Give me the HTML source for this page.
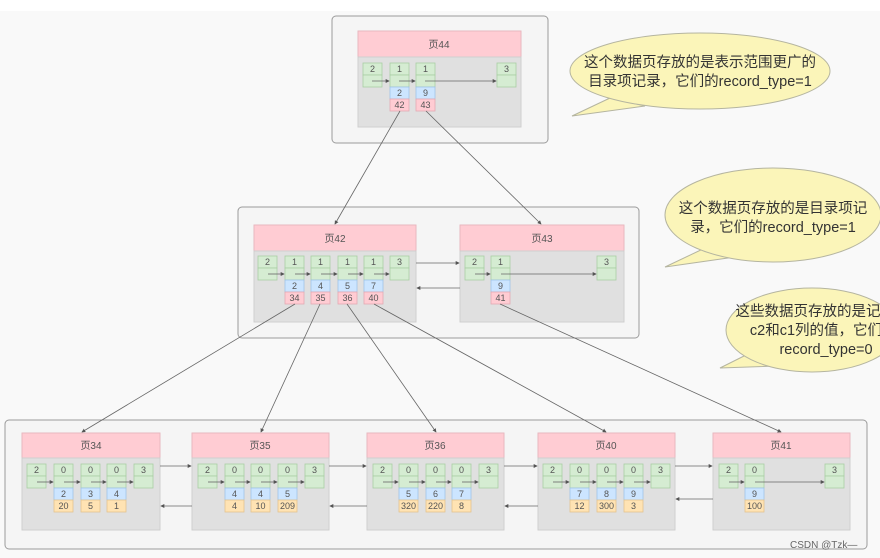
<!DOCTYPE html>
<html><head><meta charset="utf-8"><style>
html,body{margin:0;padding:0;background:#fff;}
svg{display:block;font-family:"Liberation Sans","Noto Sans CJK SC",sans-serif;}
.c{fill:#f5f5f5;stroke:#9a9a9a;stroke-width:1}
.h{fill:#ffccd3;stroke:#e8b8bf}
.bd{fill:#e0e0e0;stroke:#cfcfcf}
.g{fill:#d5ecd2;stroke:#a9cfa4;stroke-width:.8}
.b{fill:#cce5ff;stroke:#9fc3e8;stroke-width:.8}
.p{fill:#ffccd3;stroke:#e3a9b2;stroke-width:.8}
.o{fill:#ffe3b3;stroke:#e3c48f;stroke-width:.8}
.t{font-size:9px;fill:#555;text-anchor:middle}
.ht{font-size:10px;fill:#555;text-anchor:middle}
.l{stroke:#666;stroke-width:.8;fill:none;marker-end:url(#a)}
.bub{fill:#fbf5b9;stroke:#b5b5a0;stroke-width:1}
.bub2{fill:#fbf5b9;stroke:none}
.bt{font-size:14.5px;fill:#333;text-anchor:middle}
</style></head><body>
<svg width="880" height="558" viewBox="0 0 880 558">
<defs><marker id="a" viewBox="0 0 6 6" refX="5" refY="3" markerWidth="5" markerHeight="5" orient="auto"><path d="M0,0L6,3L0,6z" fill="#555"/></marker></defs>
<rect x="0" y="11" width="880" height="547" fill="#f9f9f9"/>

<rect class="c" x="332" y="16" width="216" height="127" rx="4"/>
<rect class="c" x="238" y="207" width="401" height="131" rx="4"/>
<rect class="c" x="5" y="420" width="862" height="129" rx="4"/>

<!-- page 44 -->
<rect class="h" x="358" y="31" width="163" height="26"/><text class="ht" x="439" y="48">页44</text>
<rect class="bd" x="358" y="57" width="163" height="70"/>
<rect class="g" x="363" y="63" width="19" height="12"/><rect class="g" x="363" y="75" width="19" height="12"/><text class="t" x="372.5" y="72">2</text>
<rect class="g" x="390" y="63" width="19" height="12"/><rect class="g" x="390" y="75" width="19" height="12"/><text class="t" x="399.5" y="72">1</text>
<rect class="b" x="390" y="87" width="19" height="12"/><text class="t" x="399.5" y="96">2</text>
<rect class="p" x="390" y="99" width="19" height="12"/><text class="t" x="399.5" y="108">42</text>
<rect class="g" x="416" y="63" width="19" height="12"/><rect class="g" x="416" y="75" width="19" height="12"/><text class="t" x="425.5" y="72">1</text>
<rect class="b" x="416" y="87" width="19" height="12"/><text class="t" x="425.5" y="96">9</text>
<rect class="p" x="416" y="99" width="19" height="12"/><text class="t" x="425.5" y="108">43</text>
<rect class="g" x="497" y="63" width="19" height="12"/><rect class="g" x="497" y="75" width="19" height="12"/><text class="t" x="506.5" y="72">3</text>
<line class="l" x1="372" y1="81" x2="389" y2="81"/><line class="l" x1="399" y1="81" x2="415" y2="81"/><line class="l" x1="425" y1="81" x2="496" y2="81"/>

<!-- page 42 -->
<rect class="h" x="254" y="225" width="162" height="26"/><text class="ht" x="335" y="242">页42</text>
<rect class="bd" x="254" y="251" width="162" height="71"/>
<rect class="g" x="258" y="256" width="19" height="12"/><rect class="g" x="258" y="268" width="19" height="12"/><text class="t" x="267.5" y="265">2</text>
<rect class="g" x="285" y="256" width="19" height="12"/><rect class="g" x="285" y="268" width="19" height="12"/><text class="t" x="294.5" y="265">1</text>
<rect class="b" x="285" y="280" width="19" height="12"/><text class="t" x="294.5" y="289">2</text>
<rect class="p" x="285" y="292" width="19" height="12"/><text class="t" x="294.5" y="301">34</text>
<rect class="g" x="311" y="256" width="19" height="12"/><rect class="g" x="311" y="268" width="19" height="12"/><text class="t" x="320.5" y="265">1</text>
<rect class="b" x="311" y="280" width="19" height="12"/><text class="t" x="320.5" y="289">4</text>
<rect class="p" x="311" y="292" width="19" height="12"/><text class="t" x="320.5" y="301">35</text>
<rect class="g" x="338" y="256" width="19" height="12"/><rect class="g" x="338" y="268" width="19" height="12"/><text class="t" x="347.5" y="265">1</text>
<rect class="b" x="338" y="280" width="19" height="12"/><text class="t" x="347.5" y="289">5</text>
<rect class="p" x="338" y="292" width="19" height="12"/><text class="t" x="347.5" y="301">36</text>
<rect class="g" x="364" y="256" width="19" height="12"/><rect class="g" x="364" y="268" width="19" height="12"/><text class="t" x="373.5" y="265">1</text>
<rect class="b" x="364" y="280" width="19" height="12"/><text class="t" x="373.5" y="289">7</text>
<rect class="p" x="364" y="292" width="19" height="12"/><text class="t" x="373.5" y="301">40</text>
<rect class="g" x="390" y="256" width="19" height="12"/><rect class="g" x="390" y="268" width="19" height="12"/><text class="t" x="399.5" y="265">3</text>
<line class="l" x1="268" y1="274" x2="284" y2="274"/><line class="l" x1="295" y1="274" x2="310" y2="274"/><line class="l" x1="321" y1="274" x2="337" y2="274"/><line class="l" x1="348" y1="274" x2="363" y2="274"/><line class="l" x1="374" y1="274" x2="389" y2="274"/>

<!-- page 43 -->
<rect class="h" x="460" y="225" width="164" height="26"/><text class="ht" x="542" y="242">页43</text>
<rect class="bd" x="460" y="251" width="164" height="71"/>
<rect class="g" x="465" y="256" width="19" height="12"/><rect class="g" x="465" y="268" width="19" height="12"/><text class="t" x="474.5" y="265">2</text>
<rect class="g" x="491" y="256" width="19" height="12"/><rect class="g" x="491" y="268" width="19" height="12"/><text class="t" x="500.5" y="265">1</text>
<rect class="b" x="491" y="280" width="19" height="12"/><text class="t" x="500.5" y="289">9</text>
<rect class="p" x="491" y="292" width="19" height="12"/><text class="t" x="500.5" y="301">41</text>
<rect class="g" x="597" y="256" width="19" height="12"/><rect class="g" x="597" y="268" width="19" height="12"/><text class="t" x="606.5" y="265">3</text>
<line class="l" x1="475" y1="274" x2="490" y2="274"/><line class="l" x1="501" y1="274" x2="596" y2="274"/>
<line class="l" x1="416" y1="263" x2="459" y2="263"/><line class="l" x1="460" y1="288" x2="417" y2="288"/>

<!-- 34 -->
<rect class="h" x="22" y="433" width="138" height="25"/><text class="ht" x="91" y="449">页34</text>
<rect class="bd" x="22" y="458" width="138" height="72"/>
<rect class="g" x="27" y="464" width="19" height="12"/><rect class="g" x="27" y="476" width="19" height="12"/><text class="t" x="36.5" y="473">2</text>
<rect class="g" x="54" y="464" width="19" height="12"/><rect class="g" x="54" y="476" width="19" height="12"/><text class="t" x="63.5" y="473">0</text>
<rect class="b" x="54" y="488" width="19" height="12"/><text class="t" x="63.5" y="497">2</text>
<rect class="o" x="54" y="500" width="19" height="12"/><text class="t" x="63.5" y="509">20</text>
<rect class="g" x="81" y="464" width="19" height="12"/><rect class="g" x="81" y="476" width="19" height="12"/><text class="t" x="90.5" y="473">0</text>
<rect class="b" x="81" y="488" width="19" height="12"/><text class="t" x="90.5" y="497">3</text>
<rect class="o" x="81" y="500" width="19" height="12"/><text class="t" x="90.5" y="509">5</text>
<rect class="g" x="107" y="464" width="19" height="12"/><rect class="g" x="107" y="476" width="19" height="12"/><text class="t" x="116.5" y="473">0</text>
<rect class="b" x="107" y="488" width="19" height="12"/><text class="t" x="116.5" y="497">4</text>
<rect class="o" x="107" y="500" width="19" height="12"/><text class="t" x="116.5" y="509">1</text>
<rect class="g" x="134" y="464" width="19" height="12"/><rect class="g" x="134" y="476" width="19" height="12"/><text class="t" x="143.5" y="473">3</text>
<line class="l" x1="37" y1="482" x2="53" y2="482"/><line class="l" x1="64" y1="482" x2="80" y2="482"/><line class="l" x1="91" y1="482" x2="106" y2="482"/><line class="l" x1="117" y1="482" x2="133" y2="482"/>
<!-- 35 -->
<rect class="h" x="192" y="433" width="137" height="25"/><text class="ht" x="260" y="449">页35</text>
<rect class="bd" x="192" y="458" width="137" height="72"/>
<rect class="g" x="198" y="464" width="19" height="12"/><rect class="g" x="198" y="476" width="19" height="12"/><text class="t" x="207.5" y="473">2</text>
<rect class="g" x="225" y="464" width="19" height="12"/><rect class="g" x="225" y="476" width="19" height="12"/><text class="t" x="234.5" y="473">0</text>
<rect class="b" x="225" y="488" width="19" height="12"/><text class="t" x="234.5" y="497">4</text>
<rect class="o" x="225" y="500" width="19" height="12"/><text class="t" x="234.5" y="509">4</text>
<rect class="g" x="251" y="464" width="19" height="12"/><rect class="g" x="251" y="476" width="19" height="12"/><text class="t" x="260.5" y="473">0</text>
<rect class="b" x="251" y="488" width="19" height="12"/><text class="t" x="260.5" y="497">4</text>
<rect class="o" x="251" y="500" width="19" height="12"/><text class="t" x="260.5" y="509">10</text>
<rect class="g" x="278" y="464" width="19" height="12"/><rect class="g" x="278" y="476" width="19" height="12"/><text class="t" x="287.5" y="473">0</text>
<rect class="b" x="278" y="488" width="19" height="12"/><text class="t" x="287.5" y="497">5</text>
<rect class="o" x="278" y="500" width="19" height="12"/><text class="t" x="287.5" y="509">209</text>
<rect class="g" x="305" y="464" width="19" height="12"/><rect class="g" x="305" y="476" width="19" height="12"/><text class="t" x="314.5" y="473">3</text>
<line class="l" x1="208" y1="482" x2="224" y2="482"/><line class="l" x1="235" y1="482" x2="250" y2="482"/><line class="l" x1="261" y1="482" x2="277" y2="482"/><line class="l" x1="288" y1="482" x2="304" y2="482"/>
<!-- 36 -->
<rect class="h" x="367" y="433" width="137" height="25"/><text class="ht" x="435" y="449">页36</text>
<rect class="bd" x="367" y="458" width="137" height="72"/>
<rect class="g" x="373" y="464" width="19" height="12"/><rect class="g" x="373" y="476" width="19" height="12"/><text class="t" x="382.5" y="473">2</text>
<rect class="g" x="399" y="464" width="19" height="12"/><rect class="g" x="399" y="476" width="19" height="12"/><text class="t" x="408.5" y="473">0</text>
<rect class="b" x="399" y="488" width="19" height="12"/><text class="t" x="408.5" y="497">5</text>
<rect class="o" x="399" y="500" width="19" height="12"/><text class="t" x="408.5" y="509">320</text>
<rect class="g" x="426" y="464" width="19" height="12"/><rect class="g" x="426" y="476" width="19" height="12"/><text class="t" x="435.5" y="473">0</text>
<rect class="b" x="426" y="488" width="19" height="12"/><text class="t" x="435.5" y="497">6</text>
<rect class="o" x="426" y="500" width="19" height="12"/><text class="t" x="435.5" y="509">220</text>
<rect class="g" x="452" y="464" width="19" height="12"/><rect class="g" x="452" y="476" width="19" height="12"/><text class="t" x="461.5" y="473">0</text>
<rect class="b" x="452" y="488" width="19" height="12"/><text class="t" x="461.5" y="497">7</text>
<rect class="o" x="452" y="500" width="19" height="12"/><text class="t" x="461.5" y="509">8</text>
<rect class="g" x="479" y="464" width="19" height="12"/><rect class="g" x="479" y="476" width="19" height="12"/><text class="t" x="488.5" y="473">3</text>
<line class="l" x1="383" y1="482" x2="398" y2="482"/><line class="l" x1="409" y1="482" x2="425" y2="482"/><line class="l" x1="436" y1="482" x2="451" y2="482"/><line class="l" x1="462" y1="482" x2="478" y2="482"/>
<!-- 40 -->
<rect class="h" x="538" y="433" width="137" height="25"/><text class="ht" x="606" y="449">页40</text>
<rect class="bd" x="538" y="458" width="137" height="72"/>
<rect class="g" x="543" y="464" width="19" height="12"/><rect class="g" x="543" y="476" width="19" height="12"/><text class="t" x="552.5" y="473">2</text>
<rect class="g" x="570" y="464" width="19" height="12"/><rect class="g" x="570" y="476" width="19" height="12"/><text class="t" x="579.5" y="473">0</text>
<rect class="b" x="570" y="488" width="19" height="12"/><text class="t" x="579.5" y="497">7</text>
<rect class="o" x="570" y="500" width="19" height="12"/><text class="t" x="579.5" y="509">12</text>
<rect class="g" x="597" y="464" width="19" height="12"/><rect class="g" x="597" y="476" width="19" height="12"/><text class="t" x="606.5" y="473">0</text>
<rect class="b" x="597" y="488" width="19" height="12"/><text class="t" x="606.5" y="497">8</text>
<rect class="o" x="597" y="500" width="19" height="12"/><text class="t" x="606.5" y="509">300</text>
<rect class="g" x="624" y="464" width="19" height="12"/><rect class="g" x="624" y="476" width="19" height="12"/><text class="t" x="633.5" y="473">0</text>
<rect class="b" x="624" y="488" width="19" height="12"/><text class="t" x="633.5" y="497">9</text>
<rect class="o" x="624" y="500" width="19" height="12"/><text class="t" x="633.5" y="509">3</text>
<rect class="g" x="651" y="464" width="19" height="12"/><rect class="g" x="651" y="476" width="19" height="12"/><text class="t" x="660.5" y="473">3</text>
<line class="l" x1="553" y1="482" x2="569" y2="482"/><line class="l" x1="580" y1="482" x2="596" y2="482"/><line class="l" x1="607" y1="482" x2="623" y2="482"/><line class="l" x1="634" y1="482" x2="650" y2="482"/>
<!-- 41 -->
<rect class="h" x="713" y="433" width="137" height="25"/><text class="ht" x="781" y="449">页41</text>
<rect class="bd" x="713" y="458" width="137" height="72"/>
<rect class="g" x="719" y="464" width="19" height="12"/><rect class="g" x="719" y="476" width="19" height="12"/><text class="t" x="728.5" y="473">2</text>
<rect class="g" x="745" y="464" width="19" height="12"/><rect class="g" x="745" y="476" width="19" height="12"/><text class="t" x="754.5" y="473">0</text>
<rect class="b" x="745" y="488" width="19" height="12"/><text class="t" x="754.5" y="497">9</text>
<rect class="o" x="745" y="500" width="19" height="12"/><text class="t" x="754.5" y="509">100</text>
<rect class="g" x="825" y="464" width="19" height="12"/><rect class="g" x="825" y="476" width="19" height="12"/><text class="t" x="834.5" y="473">3</text>
<line class="l" x1="729" y1="482" x2="744" y2="482"/><line class="l" x1="755" y1="482" x2="824" y2="482"/>

<line class="l" x1="160" y1="466" x2="191" y2="466"/><line class="l" x1="192" y1="506" x2="161" y2="506"/>
<line class="l" x1="329" y1="466" x2="366" y2="466"/><line class="l" x1="367" y1="506" x2="330" y2="506"/>
<line class="l" x1="504" y1="466" x2="537" y2="466"/><line class="l" x1="538" y1="506" x2="505" y2="506"/>
<line class="l" x1="675" y1="466" x2="712" y2="466"/><line class="l" x1="713" y1="499" x2="676" y2="499"/>

<line class="l" x1="400" y1="111" x2="335" y2="224"/>
<line class="l" x1="426" y1="111" x2="541" y2="224"/>
<line class="l" x1="295" y1="304" x2="82" y2="432"/>
<line class="l" x1="320" y1="304" x2="261" y2="432"/>
<line class="l" x1="347" y1="304" x2="436" y2="432"/>
<line class="l" x1="374" y1="304" x2="606" y2="432"/>
<line class="l" x1="500" y1="304" x2="781" y2="432"/>

<!-- bubbles -->
<polygon class="bub" points="610,98 572,116 645,106"/>
<ellipse class="bub" cx="700" cy="71" rx="130" ry="38"/>
<polygon class="bub2" points="608,96 642,104 650,100"/>
<text class="bt" x="700" y="67">这个数据页存放的是表示范围更广的</text>
<text class="bt" x="700" y="86">目录项记录，它们的record_type=1</text>

<polygon class="bub" points="705,248 665,267 735,257"/>
<ellipse class="bub" cx="773" cy="215" rx="108" ry="47"/>
<text class="bt" x="773" y="213">这个数据页存放的是目录项记</text>
<text class="bt" x="773" y="232">录，它们的record_type=1</text>

<polygon class="bub" points="750,353 720,368 778,366"/>
<ellipse class="bub" cx="812" cy="330" rx="86" ry="42"/>
<text class="bt" x="808" y="316">这些数据页存放的是记</text>
<text class="bt" x="816" y="335">c2和c1列的值，它们</text>
<text class="bt" x="826" y="354">record_type=0</text>

<text x="790" y="548" font-size="10" fill="#666">CSDN @Tzk—</text>
</svg>
</body></html>
